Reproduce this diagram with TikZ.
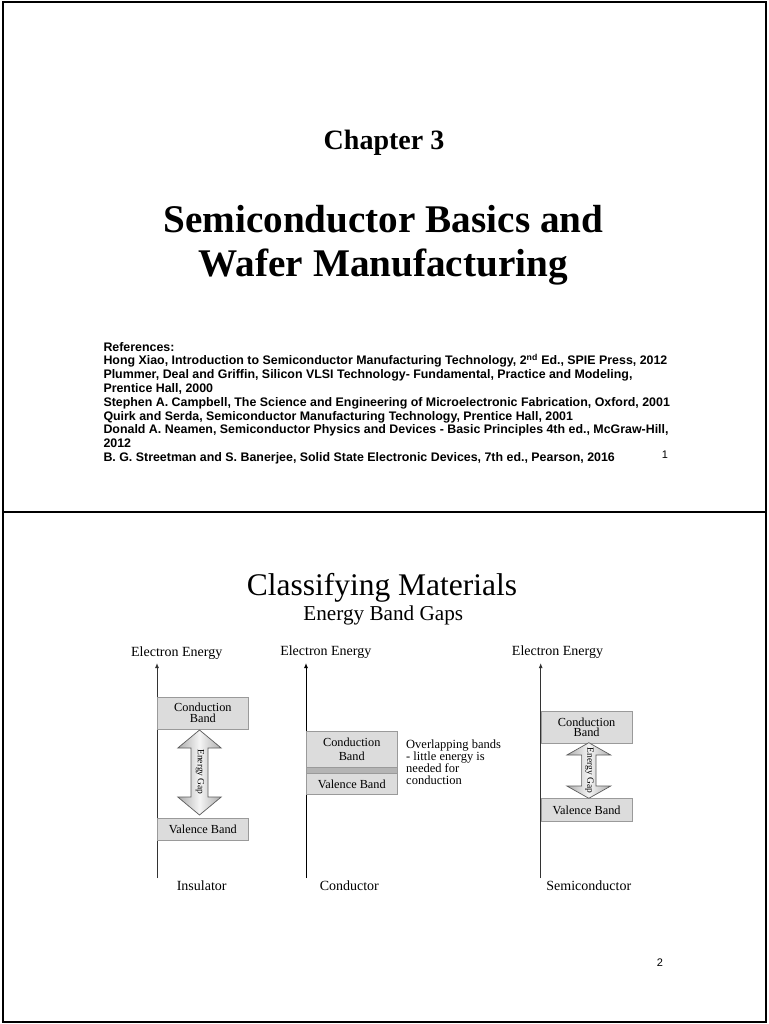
\documentclass[tikz,border=0pt]{standalone}
\usepackage{fontspec}
\setmainfont{Liberation Serif}
\newfontfamily\refsans{Liberation Sans}
\usetikzlibrary{arrows.meta}
\definecolor{bandfill}{HTML}{DCDCDC}
\definecolor{bandline}{HTML}{9A9A9A}
\definecolor{stripec}{HTML}{B4B4B4}
\definecolor{axisc}{HTML}{333333}
\begin{document}
\begin{tikzpicture}[x=1pt,y=-1pt,
  frame/.style={draw=black,line width=1.3pt},
  reftext/.style={anchor=base west,inner sep=0,font=\refsans\bfseries\fontsize{12.4}{13.8}\selectfont},
  lbl/.style={anchor=base,inner sep=0,font=\fontsize{14}{16}\selectfont},
  band/.style={draw=bandline,fill=bandfill,line width=0.8pt,anchor=north west,inner sep=0,align=center,minimum width=91pt,font=\fontsize{12.3}{11}\selectfont},
  axis/.style={draw=axisc,line width=1pt,-{Latex[length=5pt,width=4pt]}},
  gap/.style={draw=axisc!80,line width=0.7pt,left color=gray!65,right color=gray!65,middle color=gray!8},
  gaptext/.style={rotate=-90,inner sep=0,font=\fontsize{9.5}{10}\selectfont},
  pnum/.style={inner sep=0,font=\refsans\fontsize{11}{12}\selectfont}
]
\useasboundingbox (0,0) rectangle (768,1024);
\fill[white] (0,0) rectangle (768,1024);
% slide frames
\draw[frame] (3,2) rectangle (766,512);
\draw[frame] (3,512) rectangle (766,1022);

% ---------- slide 1 ----------
\node[anchor=base,inner sep=0,font=\bfseries\fontsize{28}{30}\selectfont] (chap) at (384,150) {Chapter 3};
\node[anchor=base,inner sep=0,font=\bfseries\fontsize{39.2}{44}\selectfont] (title1) at (383.3,233) {Semiconductor Basics and};
\node[anchor=base,inner sep=0,font=\bfseries\fontsize{39.2}{44}\selectfont] (title2) at (383.3,276) {Wafer Manufacturing};

\node[reftext] (r0) at (103.3,351) {References:};
\node[reftext] (r1) at (103.3,364.8) {Hong Xiao, Introduction to Semiconductor Manufacturing Technology, 2\textsuperscript{nd} Ed., SPIE Press, 2012};
\node[reftext] (r2) at (103.3,378.6) {Plummer, Deal and Griffin, Silicon VLSI Technology- Fundamental, Practice and Modeling,};
\node[reftext] (r3) at (103.3,392.4) {Prentice Hall, 2000};
\node[reftext] (r4) at (103.3,406.2) {Stephen A. Campbell, The Science and Engineering of Microelectronic Fabrication, Oxford, 2001};
\node[reftext] (r5) at (103.3,420) {Quirk and Serda, Semiconductor Manufacturing Technology, Prentice Hall, 2001};
\node[reftext] (r6) at (103.3,433.8) {Donald A. Neamen, Semiconductor Physics and Devices - Basic Principles 4th ed., McGraw-Hill,};
\node[reftext] (r7) at (103.3,447.6) {2012};
\node[reftext] (r8) at (103.3,461.4) {B. G. Streetman and S. Banerjee, Solid State Electronic Devices, 7th ed., Pearson, 2016};
\node[pnum] (p1) at (665,455) {1};

% ---------- slide 2 ----------
\node[anchor=base,inner sep=0,font=\fontsize{31.5}{34}\selectfont] (ctitle) at (382,595) {Classifying Materials};
\node[anchor=base,inner sep=0,font=\fontsize{21.2}{24}\selectfont] (csub) at (383.3,620) {Energy Band Gaps};

% Insulator
\coordinate (ia0) at (157,878);
\coordinate (ia1) at (157,663);
\draw[axis] (ia0) -- (ia1);
\node[lbl] (ie) at (176.7,656) {Electron Energy};
\node[band,minimum height=32pt] (icb) at (157,696.7) {Conduction\\Band};
\node[band,minimum height=22.3pt] (ivb) at (157,817.7) {Valence Band};
\path[gap] (199.5,730) -- (221.2,748) -- (208,748) -- (208,797) -- (221.2,797) -- (199.5,815)
  -- (177.8,797) -- (191,797) -- (191,748) -- (177.8,748) -- cycle;
\node[gaptext] (ig) at (200,772) {Energy Gap};
\node[lbl] (il) at (201.7,890.7) {Insulator};

% Conductor
\coordinate (ca0) at (306,878);
\coordinate (ca1) at (306,663);
\draw[axis,draw=black] (ca0) -- (ca1);
\node[lbl] (ce) at (325.8,655) {Electron Energy};
\node[band,minimum width=90.7pt,minimum height=36.6pt,font=\fontsize{12.3}{14}\selectfont] (ccb) at (306,730.7) {Conduction\\Band};
\node[band,minimum width=90.7pt,minimum height=6pt,fill=stripec] (cst) at (306,767.3) {};
\node[band,minimum width=90.7pt,minimum height=20.7pt] (cvb) at (306,773.3) {Valence Band};
\node[anchor=north west,inner sep=0,align=left,font=\fontsize{12.5}{12}\selectfont] (cnote) at (406,739.8)
  {Overlapping bands\\- little energy is\\needed for\\conduction};
\node[lbl] (cl) at (349.3,890.7) {Conductor};

% Semiconductor
\coordinate (sa0) at (540.7,878);
\coordinate (sa1) at (540.7,663);
\draw[axis] (sa0) -- (sa1);
\node[lbl] (se) at (557.5,655) {Electron Energy};
\node[band,minimum height=32pt,font=\fontsize{12.3}{10.5}\selectfont] (scb) at (540.7,710.7) {Conduction\\Band};
\node[band,minimum height=22.4pt] (svb) at (540.7,798.3) {Valence Band};
\path[gap] (588.8,742.7) -- (610.7,755) -- (596,755) -- (596,786) -- (610.7,786) -- (588.8,798.3)
  -- (566.9,786) -- (581.6,786) -- (581.6,755) -- (566.9,755) -- cycle;
\node[gaptext] (sg) at (589.5,770.5) {Energy Gap};
\node[lbl] (sl) at (588.8,890.7) {Semiconductor};

\node[pnum] (p2) at (660,963) {2};
\end{tikzpicture}
\end{document}
